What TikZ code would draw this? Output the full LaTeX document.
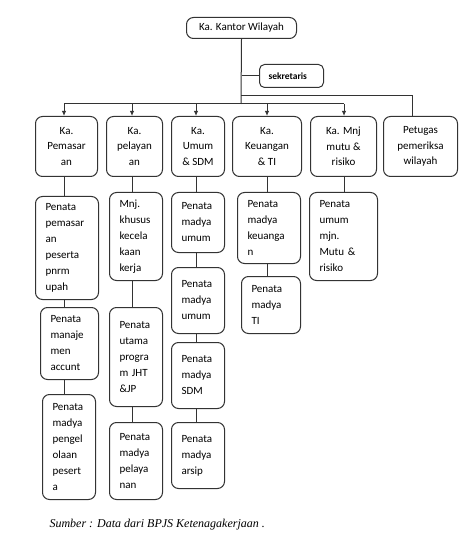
\documentclass[tikz,border=0pt]{standalone}
\usepackage{fontspec}
\setmainfont{Carlito}
\newfontfamily\sourcefont{Liberation Serif}
\usepackage{tikz}
\usetikzlibrary{arrows.meta}

\begin{document}
\begin{tikzpicture}[
            x=1pt, y=-1pt,
            every node/.style={font=\fontsize{11}{15.5}\selectfont},
            box/.style={draw=black!80, line width=1pt, rounded corners=7pt, fill=white, anchor=north west},
            head/.style={box, align=center, minimum width=#1, minimum height=60pt, inner sep=0pt},
            staff/.style 2 args={box, align=left, text width=#1, minimum height=#2,
                inner xsep=10pt, inner ysep=3pt, font=\fontsize{11}{16}\selectfont},
            link/.style={draw=black!80, line width=1pt},
            arr/.style={link, -{Latex[length=5pt,width=4.5pt]}}
        ]
            \useasboundingbox (0,0) rectangle (474,545);

            \node[box, minimum width=110pt, minimum height=21pt, inner sep=0pt] (kanwil) at (186,17) {Ka. Kantor Wilayah};
            \node[box, rounded corners=5pt, align=left, text width=46pt, inner xsep=9pt, minimum height=23pt,
                font=\fontsize{9.5}{11}\selectfont\bfseries] (sek) at (259,64) {sekretaris};

            \node[head=62pt] (pm) at (35,116) {Ka.\\Pemasar\\an};
            \node[head=56pt] (pl) at (106,116) {Ka.\\pelayan\\an};
            \node[head=53pt] (um) at (171,116) {Ka.\\Umum\\\& SDM};
            \node[head=69pt] (ku) at (232,116) {Ka.\\Keuangan\\\& TI};
            \node[head=66pt] (mt) at (310,116) {Ka. Mnj\\mutu \&\\risiko};
            \node[head=74pt] (pt) at (383,116) {Petugas\\pemeriksa\\wilayah};

            \node[staff={43pt}{103pt}] (pm1) at (35,196) {Penata\\pemasar\\an\\peserta\\pnrm\\upah};
            \node[staff={38pt}{72pt}] (pm2) at (40,307) {Penata\\manaje\\men\\accunt};
            \node[staff={33pt}{105pt}] (pm3) at (42,394) {Penata\\madya\\pengel\\olaan\\pesert\\a};

            \node[staff={33pt}{88pt}] (pl1) at (109,192) {Mnj.\\khusus\\kecela\\kaan\\kerja};
            \node[staff={33pt}{99pt}] (pl2) at (109,307) {Penata\\utama\\progra\\m JHT\\\&JP};
            \node[staff={33pt}{77pt}] (pl3) at (109,422) {Penata\\madya\\pelaya\\nan};

            \node[staff={33pt}{60pt}] (um1) at (171,192) {Penata\\madya\\umum};
            \node[staff={33pt}{66pt}] (um2) at (171,267) {Penata\\madya\\umum};
            \node[staff={33pt}{66pt}] (um3) at (171,342) {Penata\\madya\\SDM};
            \node[staff={33pt}{66pt}] (um4) at (171,422) {Penata\\madya\\arsip};

            \node[staff={43pt}{71pt}] (ku1) at (237,192) {Penata\\madya\\keuanga\\n};
            \node[staff={39pt}{57pt}] (ku2) at (241,276) {Penata\\madya\\TI};

            \node[staff={48pt}{88pt}] (mt1) at (309,192) {Penata\\umum\\mjn.\\Mutu \&\\risiko};

            \node[anchor=west, font=\sourcefont\itshape\fontsize{12}{14}\selectfont] (src) at (46,525)
                {Sumber : Data dari BPJS Ketenagakerjaan .};

            \coordinate (c1) at (64,0);
            \coordinate (c2) at (132,0);
            \coordinate (c3) at (196,0);
            \coordinate (c4) at (267,0);
            \coordinate (c5) at (344,0);
            \coordinate (jp) at (241,96);
            \coordinate (jn) at (241,104);
            \coordinate (pj) at (412,96);

            \draw[link] (kanwil.south) -- (jn);
            \draw[link] (kanwil.south |- sek.west) -- (sek.west);
            \draw[link] (jp) -- (pj) -- (pj |- pt.north);
            \draw[link] (c1 |- jn) -- (c5 |- jn);
            \foreach \c/\n in {c1/pm, c2/pl, c3/um, c4/ku, c5/mt}
                \draw[arr] (\c |- jn) -- (\c |- \n.north);
            \foreach \c/\a/\b in {c1/pm/pm1, c1/pm1/pm2, c1/pm2/pm3,
                                  c2/pl/pl1, c2/pl1/pl2, c2/pl2/pl3,
                                  c3/um/um1, c3/um1/um2, c3/um2/um3, c3/um3/um4,
                                  c4/ku/ku1, c4/ku1/ku2, c5/mt/mt1}
                \draw[link] (\c |- \a.south) -- (\c |- \b.north);
        \end{tikzpicture}
\end{document}
